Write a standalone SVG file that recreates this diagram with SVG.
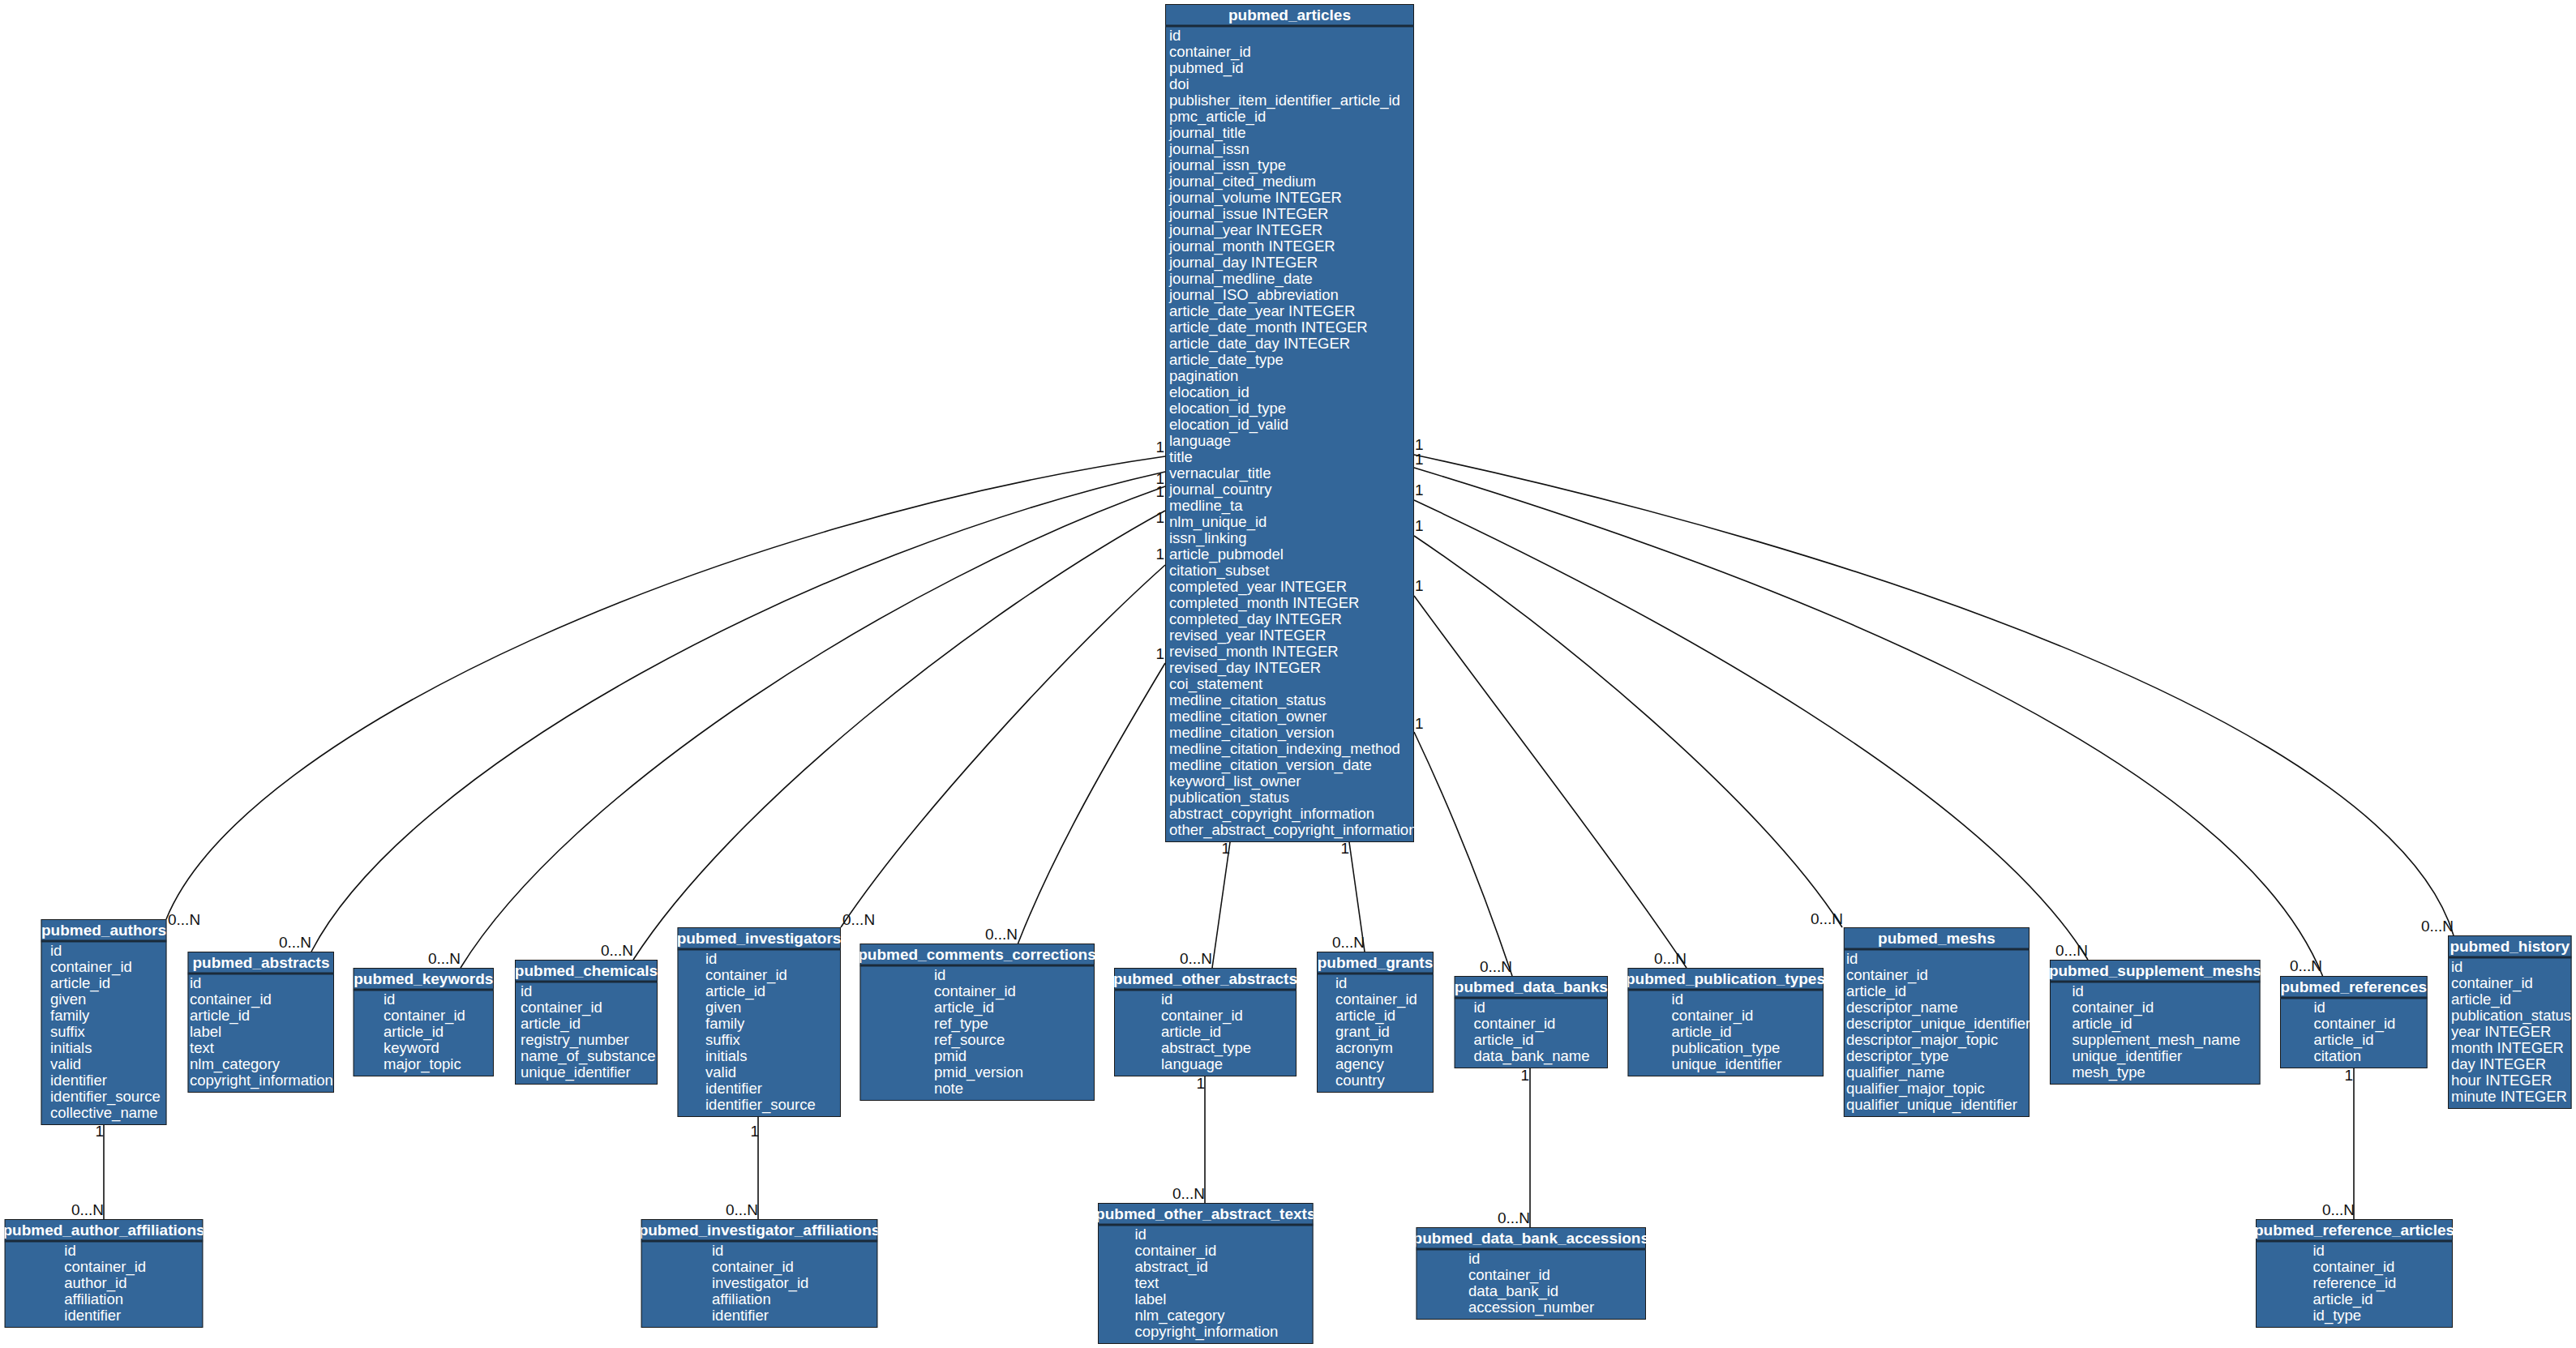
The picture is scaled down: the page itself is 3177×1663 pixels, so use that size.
<svg xmlns="http://www.w3.org/2000/svg" width="3177" height="1663" viewBox="0 0 3177 1663">
<style>
.box{fill:#336699;stroke:#1a1a1a;stroke-width:2}
.sep{stroke:#1a2a3a;stroke-width:3}
.t{font-family:"Liberation Sans",Arial,sans-serif;font-size:19px;font-weight:bold;fill:#fff;text-anchor:middle}
.r{font-family:"Liberation Sans",Arial,sans-serif;font-size:18.5px;fill:#fff}
.e{fill:none;stroke:#111;stroke-width:1.6}
.l{font-family:"Liberation Sans",Arial,sans-serif;font-size:19px;fill:#111}
.en{text-anchor:end}
.sh{fill:#bbb}
</style>
<defs>
<clipPath id="c0"><rect x="1437" y="5" width="307" height="1034"/></clipPath>
<clipPath id="c1"><rect x="50.5" y="1134" width="155" height="254"/></clipPath>
<clipPath id="c2"><rect x="231.5" y="1174" width="180.5" height="174"/></clipPath>
<clipPath id="c3"><rect x="435.6" y="1194" width="173.4" height="134"/></clipPath>
<clipPath id="c4"><rect x="635" y="1184" width="176" height="154"/></clipPath>
<clipPath id="c5"><rect x="835.5" y="1144" width="201.5" height="234"/></clipPath>
<clipPath id="c6"><rect x="1060.5" y="1164" width="289.5" height="194"/></clipPath>
<clipPath id="c7"><rect x="1374" y="1194" width="225" height="134"/></clipPath>
<clipPath id="c8"><rect x="1624" y="1174" width="144" height="174"/></clipPath>
<clipPath id="c9"><rect x="1793.6" y="1204" width="189.4" height="114"/></clipPath>
<clipPath id="c10"><rect x="2007.5" y="1194" width="241.5" height="134"/></clipPath>
<clipPath id="c11"><rect x="2273.8" y="1144" width="229.2" height="234"/></clipPath>
<clipPath id="c12"><rect x="2528" y="1184" width="259.6" height="154"/></clipPath>
<clipPath id="c13"><rect x="2812" y="1204" width="181.7" height="114"/></clipPath>
<clipPath id="c14"><rect x="3019" y="1154" width="152.6" height="214"/></clipPath>
<clipPath id="c15"><rect x="5.6" y="1504" width="244.8" height="134"/></clipPath>
<clipPath id="c16"><rect x="790.6" y="1504" width="291.8" height="134"/></clipPath>
<clipPath id="c17"><rect x="1354" y="1484" width="265.6" height="174"/></clipPath>
<clipPath id="c18"><rect x="1746.5" y="1514" width="283.5" height="114"/></clipPath>
<clipPath id="c19"><rect x="2782" y="1504" width="243" height="134"/></clipPath>
</defs>

<g id="connectors">
<path class="e" d="M1437 563 C900 640 300 900 205 1134"/>
<path class="e" d="M1437 582 C1000 680 500 950 384 1174"/>
<path class="e" d="M1437 600 C1100 720 700 980 568 1194"/>
<path class="e" d="M1437 630 C1200 760 900 1000 781 1184"/>
<path class="e" d="M1437 697 C1300 820 1120 1020 1037 1144"/>
<path class="e" d="M1437 818 C1370 930 1300 1050 1255.5 1164"/>
<path class="e" d="M1517 1039 L1495 1194"/>
<path class="e" d="M1664 1039 L1683 1174"/>
<path class="e" d="M1744 903 C1790 1000 1830 1100 1865 1204"/>
<path class="e" d="M1744 735 C1850 880 1990 1060 2080 1194"/>
<path class="e" d="M1744 661 C1950 800 2180 1000 2272 1144"/>
<path class="e" d="M1744 617 C2050 760 2450 980 2575 1184"/>
<path class="e" d="M1744 577 C2150 700 2750 920 2864.5 1204"/>
<path class="e" d="M1744 561 C2300 680 2950 900 3026 1154"/>
<path class="e" d="M128 1388 L128 1504"/>
<path class="e" d="M935 1378 L935 1504"/>
<path class="e" d="M1486 1328 L1486 1484"/>
<path class="e" d="M1887 1318 L1887 1514"/>
<path class="e" d="M2903 1318 L2903 1504"/>
<g class="l">
<text class="en" x="1436" y="558">1</text>
<text class="en" x="1436" y="597">1</text>
<text class="en" x="1436" y="613">1</text>
<text class="en" x="1436" y="645">1</text>
<text class="en" x="1436" y="690">1</text>
<text class="en" x="1436" y="813">1</text>
<text x="1745" y="555">1</text>
<text x="1745" y="573">1</text>
<text x="1745" y="611">1</text>
<text x="1745" y="655">1</text>
<text x="1745" y="729">1</text>
<text x="1745" y="899">1</text>
<text class="en" x="1517" y="1053">1</text>
<text class="en" x="1664" y="1053">1</text>
<text class="en" x="128" y="1402">1</text>
<text class="en" x="936" y="1402">1</text>
<text class="en" x="1486" y="1343">1</text>
<text class="en" x="1886" y="1333">1</text>
<text class="en" x="2902" y="1333">1</text>
<text x="207" y="1141">0...N</text>
<text x="1039" y="1141">0...N</text>
<text class="en" x="384" y="1169">0...N</text>
<text class="en" x="568" y="1189">0...N</text>
<text class="en" x="781" y="1179">0...N</text>
<text class="en" x="1255" y="1159">0...N</text>
<text class="en" x="1495" y="1189">0...N</text>
<text class="en" x="1683" y="1169">0...N</text>
<text class="en" x="1865" y="1199">0...N</text>
<text class="en" x="2080" y="1189">0...N</text>
<text class="en" x="2273" y="1140">0...N</text>
<text class="en" x="2575" y="1179">0...N</text>
<text class="en" x="2864" y="1198">0...N</text>
<text class="en" x="3026" y="1149">0...N</text>
<text class="en" x="128" y="1499">0...N</text>
<text class="en" x="935" y="1499">0...N</text>
<text class="en" x="1486" y="1479">0...N</text>
<text class="en" x="1887" y="1509">0...N</text>
<text class="en" x="2904" y="1499">0...N</text>
</g>
</g>

<g id="pubmed_articles" clip-path="url(#c0)">
<rect class="box" x="1437" y="5" width="307" height="1034"/>
<line class="sep" x1="1437" y1="32" x2="1744" y2="32"/>
<text class="t" x="1590.5" y="25">pubmed_articles</text>
<text class="r" x="1442" y="50"><tspan x="1442" dy="0">id</tspan><tspan x="1442" dy="20">container_id</tspan><tspan x="1442" dy="20">pubmed_id</tspan><tspan x="1442" dy="20">doi</tspan><tspan x="1442" dy="20">publisher_item_identifier_article_id</tspan><tspan x="1442" dy="20">pmc_article_id</tspan><tspan x="1442" dy="20">journal_title</tspan><tspan x="1442" dy="20">journal_issn</tspan><tspan x="1442" dy="20">journal_issn_type</tspan><tspan x="1442" dy="20">journal_cited_medium</tspan><tspan x="1442" dy="20">journal_volume INTEGER</tspan><tspan x="1442" dy="20">journal_issue INTEGER</tspan><tspan x="1442" dy="20">journal_year INTEGER</tspan><tspan x="1442" dy="20">journal_month INTEGER</tspan><tspan x="1442" dy="20">journal_day INTEGER</tspan><tspan x="1442" dy="20">journal_medline_date</tspan><tspan x="1442" dy="20">journal_ISO_abbreviation</tspan><tspan x="1442" dy="20">article_date_year INTEGER</tspan><tspan x="1442" dy="20">article_date_month INTEGER</tspan><tspan x="1442" dy="20">article_date_day INTEGER</tspan><tspan x="1442" dy="20">article_date_type</tspan><tspan x="1442" dy="20">pagination</tspan><tspan x="1442" dy="20">elocation_id</tspan><tspan x="1442" dy="20">elocation_id_type</tspan><tspan x="1442" dy="20">elocation_id_valid</tspan><tspan x="1442" dy="20">language</tspan><tspan x="1442" dy="20">title</tspan><tspan x="1442" dy="20">vernacular_title</tspan><tspan x="1442" dy="20">journal_country</tspan><tspan x="1442" dy="20">medline_ta</tspan><tspan x="1442" dy="20">nlm_unique_id</tspan><tspan x="1442" dy="20">issn_linking</tspan><tspan x="1442" dy="20">article_pubmodel</tspan><tspan x="1442" dy="20">citation_subset</tspan><tspan x="1442" dy="20">completed_year INTEGER</tspan><tspan x="1442" dy="20">completed_month INTEGER</tspan><tspan x="1442" dy="20">completed_day INTEGER</tspan><tspan x="1442" dy="20">revised_year INTEGER</tspan><tspan x="1442" dy="20">revised_month INTEGER</tspan><tspan x="1442" dy="20">revised_day INTEGER</tspan><tspan x="1442" dy="20">coi_statement</tspan><tspan x="1442" dy="20">medline_citation_status</tspan><tspan x="1442" dy="20">medline_citation_owner</tspan><tspan x="1442" dy="20">medline_citation_version</tspan><tspan x="1442" dy="20">medline_citation_indexing_method</tspan><tspan x="1442" dy="20">medline_citation_version_date</tspan><tspan x="1442" dy="20">keyword_list_owner</tspan><tspan x="1442" dy="20">publication_status</tspan><tspan x="1442" dy="20">abstract_copyright_information</tspan><tspan x="1442" dy="20">other_abstract_copyright_information</tspan></text>
</g>

<g id="pubmed_authors" clip-path="url(#c1)">
<rect class="box" x="50.5" y="1134" width="155" height="254"/>
<line class="sep" x1="50.5" y1="1161" x2="205.5" y2="1161"/>
<text class="t" x="128" y="1154">pubmed_authors</text>
<text class="r" y="1179"><tspan x="62" dy="0">id</tspan><tspan x="62" dy="20">container_id</tspan><tspan x="62" dy="20">article_id</tspan><tspan x="62" dy="20">given</tspan><tspan x="62" dy="20">family</tspan><tspan x="62" dy="20">suffix</tspan><tspan x="62" dy="20">initials</tspan><tspan x="62" dy="20">valid</tspan><tspan x="62" dy="20">identifier</tspan><tspan x="62" dy="20">identifier_source</tspan><tspan x="62" dy="20">collective_name</tspan></text>
</g>

<g id="pubmed_abstracts" clip-path="url(#c2)">
<rect class="box" x="231.5" y="1174" width="180.5" height="174"/>
<line class="sep" x1="231.5" y1="1201" x2="412" y2="1201"/>
<text class="t" x="322" y="1194">pubmed_abstracts</text>
<text class="r" y="1219"><tspan x="234" dy="0">id</tspan><tspan x="234" dy="20">container_id</tspan><tspan x="234" dy="20">article_id</tspan><tspan x="234" dy="20">label</tspan><tspan x="234" dy="20">text</tspan><tspan x="234" dy="20">nlm_category</tspan><tspan x="234" dy="20">copyright_information</tspan></text>
</g>

<g id="pubmed_keywords" clip-path="url(#c3)">
<rect class="box" x="435.6" y="1194" width="173.4" height="134"/>
<line class="sep" x1="435.6" y1="1221" x2="609" y2="1221"/>
<text class="t" x="522.3" y="1214">pubmed_keywords</text>
<text class="r" y="1239"><tspan x="473" dy="0">id</tspan><tspan x="473" dy="20">container_id</tspan><tspan x="473" dy="20">article_id</tspan><tspan x="473" dy="20">keyword</tspan><tspan x="473" dy="20">major_topic</tspan></text>
</g>

<g id="pubmed_chemicals" clip-path="url(#c4)">
<rect class="box" x="635" y="1184" width="176" height="154"/>
<line class="sep" x1="635" y1="1211" x2="811" y2="1211"/>
<text class="t" x="723" y="1204">pubmed_chemicals</text>
<text class="r" y="1229"><tspan x="642" dy="0">id</tspan><tspan x="642" dy="20">container_id</tspan><tspan x="642" dy="20">article_id</tspan><tspan x="642" dy="20">registry_number</tspan><tspan x="642" dy="20">name_of_substance</tspan><tspan x="642" dy="20">unique_identifier</tspan></text>
</g>

<g id="pubmed_investigators" clip-path="url(#c5)">
<rect class="box" x="835.5" y="1144" width="201.5" height="234"/>
<line class="sep" x1="835.5" y1="1171" x2="1037" y2="1171"/>
<text class="t" x="936" y="1164">pubmed_investigators</text>
<text class="r" y="1189"><tspan x="870" dy="0">id</tspan><tspan x="870" dy="20">container_id</tspan><tspan x="870" dy="20">article_id</tspan><tspan x="870" dy="20">given</tspan><tspan x="870" dy="20">family</tspan><tspan x="870" dy="20">suffix</tspan><tspan x="870" dy="20">initials</tspan><tspan x="870" dy="20">valid</tspan><tspan x="870" dy="20">identifier</tspan><tspan x="870" dy="20">identifier_source</tspan></text>
</g>

<g id="pubmed_comments_corrections" clip-path="url(#c6)">
<rect class="box" x="1060.5" y="1164" width="289.5" height="194"/>
<line class="sep" x1="1060.5" y1="1191" x2="1350" y2="1191"/>
<text class="t" x="1205" y="1184">pubmed_comments_corrections</text>
<text class="r" y="1209"><tspan x="1152" dy="0">id</tspan><tspan x="1152" dy="20">container_id</tspan><tspan x="1152" dy="20">article_id</tspan><tspan x="1152" dy="20">ref_type</tspan><tspan x="1152" dy="20">ref_source</tspan><tspan x="1152" dy="20">pmid</tspan><tspan x="1152" dy="20">pmid_version</tspan><tspan x="1152" dy="20">note</tspan></text>
</g>

<g id="pubmed_other_abstracts" clip-path="url(#c7)">
<rect class="box" x="1374" y="1194" width="225" height="134"/>
<line class="sep" x1="1374" y1="1221" x2="1599" y2="1221"/>
<text class="t" x="1486.5" y="1214">pubmed_other_abstracts</text>
<text class="r" y="1239"><tspan x="1432" dy="0">id</tspan><tspan x="1432" dy="20">container_id</tspan><tspan x="1432" dy="20">article_id</tspan><tspan x="1432" dy="20">abstract_type</tspan><tspan x="1432" dy="20">language</tspan></text>
</g>

<g id="pubmed_grants" clip-path="url(#c8)">
<rect class="box" x="1624" y="1174" width="144" height="174"/>
<line class="sep" x1="1624" y1="1201" x2="1768" y2="1201"/>
<text class="t" x="1696" y="1194">pubmed_grants</text>
<text class="r" y="1219"><tspan x="1647" dy="0">id</tspan><tspan x="1647" dy="20">container_id</tspan><tspan x="1647" dy="20">article_id</tspan><tspan x="1647" dy="20">grant_id</tspan><tspan x="1647" dy="20">acronym</tspan><tspan x="1647" dy="20">agency</tspan><tspan x="1647" dy="20">country</tspan></text>
</g>

<g id="pubmed_data_banks" clip-path="url(#c9)">
<rect class="box" x="1793.6" y="1204" width="189.4" height="114"/>
<line class="sep" x1="1793.6" y1="1231" x2="1983" y2="1231"/>
<text class="t" x="1888.3" y="1224">pubmed_data_banks</text>
<text class="r" y="1249"><tspan x="1817.5" dy="0">id</tspan><tspan x="1817.5" dy="20">container_id</tspan><tspan x="1817.5" dy="20">article_id</tspan><tspan x="1817.5" dy="20">data_bank_name</tspan></text>
</g>

<g id="pubmed_publication_types" clip-path="url(#c10)">
<rect class="box" x="2007.5" y="1194" width="241.5" height="134"/>
<line class="sep" x1="2007.5" y1="1221" x2="2249" y2="1221"/>
<text class="t" x="2128" y="1214">pubmed_publication_types</text>
<text class="r" y="1239"><tspan x="2061.6" dy="0">id</tspan><tspan x="2061.6" dy="20">container_id</tspan><tspan x="2061.6" dy="20">article_id</tspan><tspan x="2061.6" dy="20">publication_type</tspan><tspan x="2061.6" dy="20">unique_identifier</tspan></text>
</g>

<g id="pubmed_meshs" clip-path="url(#c11)">
<rect class="box" x="2273.8" y="1144" width="229.2" height="234"/>
<line class="sep" x1="2273.8" y1="1171" x2="2503" y2="1171"/>
<text class="t" x="2388.4" y="1164">pubmed_meshs</text>
<text class="r" y="1189"><tspan x="2277" dy="0">id</tspan><tspan x="2277" dy="20">container_id</tspan><tspan x="2277" dy="20">article_id</tspan><tspan x="2277" dy="20">descriptor_name</tspan><tspan x="2277" dy="20">descriptor_unique_identifier</tspan><tspan x="2277" dy="20">descriptor_major_topic</tspan><tspan x="2277" dy="20">descriptor_type</tspan><tspan x="2277" dy="20">qualifier_name</tspan><tspan x="2277" dy="20">qualifier_major_topic</tspan><tspan x="2277" dy="20">qualifier_unique_identifier</tspan></text>
</g>

<g id="pubmed_supplement_meshs" clip-path="url(#c12)">
<rect class="box" x="2528" y="1184" width="259.6" height="154"/>
<line class="sep" x1="2528" y1="1211" x2="2787.6" y2="1211"/>
<text class="t" x="2657.8" y="1204">pubmed_supplement_meshs</text>
<text class="r" y="1229"><tspan x="2555.4" dy="0">id</tspan><tspan x="2555.4" dy="20">container_id</tspan><tspan x="2555.4" dy="20">article_id</tspan><tspan x="2555.4" dy="20">supplement_mesh_name</tspan><tspan x="2555.4" dy="20">unique_identifier</tspan><tspan x="2555.4" dy="20">mesh_type</tspan></text>
</g>

<g id="pubmed_references" clip-path="url(#c13)">
<rect class="box" x="2812" y="1204" width="181.7" height="114"/>
<line class="sep" x1="2812" y1="1231" x2="2993.7" y2="1231"/>
<text class="t" x="2902.8" y="1224">pubmed_references</text>
<text class="r" y="1249"><tspan x="2853.5" dy="0">id</tspan><tspan x="2853.5" dy="20">container_id</tspan><tspan x="2853.5" dy="20">article_id</tspan><tspan x="2853.5" dy="20">citation</tspan></text>
</g>

<g id="pubmed_history" clip-path="url(#c14)">
<rect class="box" x="3019" y="1154" width="152.6" height="214"/>
<line class="sep" x1="3019" y1="1181" x2="3171.6" y2="1181"/>
<text class="t" x="3095.3" y="1174">pubmed_history</text>
<text class="r" y="1199"><tspan x="3023" dy="0">id</tspan><tspan x="3023" dy="20">container_id</tspan><tspan x="3023" dy="20">article_id</tspan><tspan x="3023" dy="20">publication_status</tspan><tspan x="3023" dy="20">year INTEGER</tspan><tspan x="3023" dy="20">month INTEGER</tspan><tspan x="3023" dy="20">day INTEGER</tspan><tspan x="3023" dy="20">hour INTEGER</tspan><tspan x="3023" dy="20">minute INTEGER</tspan></text>
</g>

<g id="pubmed_author_affiliations" clip-path="url(#c15)">
<rect class="box" x="5.6" y="1504" width="244.8" height="134"/>
<line class="sep" x1="5.6" y1="1531" x2="250.4" y2="1531"/>
<text class="t" x="128" y="1524">pubmed_author_affiliations</text>
<text class="r" y="1549"><tspan x="79.3" dy="0">id</tspan><tspan x="79.3" dy="20">container_id</tspan><tspan x="79.3" dy="20">author_id</tspan><tspan x="79.3" dy="20">affiliation</tspan><tspan x="79.3" dy="20">identifier</tspan></text>
</g>

<g id="pubmed_investigator_affiliations" clip-path="url(#c16)">
<rect class="box" x="790.6" y="1504" width="291.8" height="134"/>
<line class="sep" x1="790.6" y1="1531" x2="1082.4" y2="1531"/>
<text class="t" x="936.5" y="1524">pubmed_investigator_affiliations</text>
<text class="r" y="1549"><tspan x="878" dy="0">id</tspan><tspan x="878" dy="20">container_id</tspan><tspan x="878" dy="20">investigator_id</tspan><tspan x="878" dy="20">affiliation</tspan><tspan x="878" dy="20">identifier</tspan></text>
</g>

<g id="pubmed_other_abstract_texts" clip-path="url(#c17)">
<rect class="box" x="1354" y="1484" width="265.6" height="174"/>
<line class="sep" x1="1354" y1="1511" x2="1619.6" y2="1511"/>
<text class="t" x="1486.8" y="1504">pubmed_other_abstract_texts</text>
<text class="r" y="1529"><tspan x="1399.4" dy="0">id</tspan><tspan x="1399.4" dy="20">container_id</tspan><tspan x="1399.4" dy="20">abstract_id</tspan><tspan x="1399.4" dy="20">text</tspan><tspan x="1399.4" dy="20">label</tspan><tspan x="1399.4" dy="20">nlm_category</tspan><tspan x="1399.4" dy="20">copyright_information</tspan></text>
</g>

<g id="pubmed_data_bank_accessions" clip-path="url(#c18)">
<rect class="box" x="1746.5" y="1514" width="283.5" height="114"/>
<line class="sep" x1="1746.5" y1="1541" x2="2030" y2="1541"/>
<text class="t" x="1888.3" y="1534">pubmed_data_bank_accessions</text>
<text class="r" y="1559"><tspan x="1811" dy="0">id</tspan><tspan x="1811" dy="20">container_id</tspan><tspan x="1811" dy="20">data_bank_id</tspan><tspan x="1811" dy="20">accession_number</tspan></text>
</g>

<g id="pubmed_reference_articles" clip-path="url(#c19)">
<rect class="box" x="2782" y="1504" width="243" height="134"/>
<line class="sep" x1="2782" y1="1531" x2="3025" y2="1531"/>
<text class="t" x="2903.5" y="1524">pubmed_reference_articles</text>
<text class="r" y="1549"><tspan x="2852.5" dy="0">id</tspan><tspan x="2852.5" dy="20">container_id</tspan><tspan x="2852.5" dy="20">reference_id</tspan><tspan x="2852.5" dy="20">article_id</tspan><tspan x="2852.5" dy="20">id_type</tspan></text>
</g>
</svg>
